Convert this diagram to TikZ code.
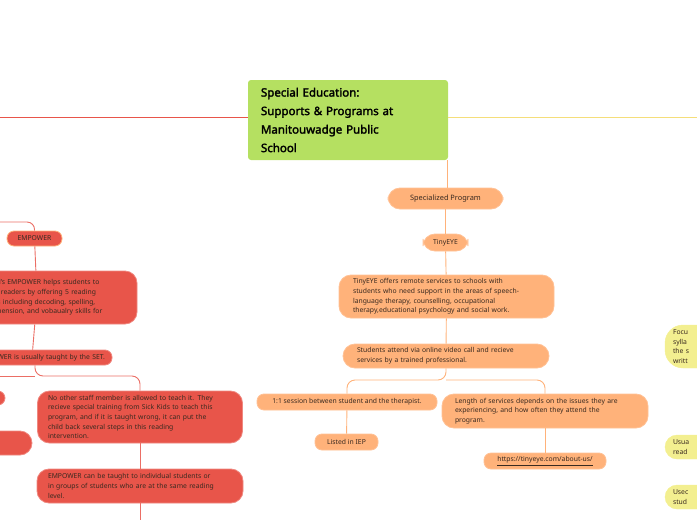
\documentclass[tikz,border=0pt]{standalone}
\usepackage{fontspec}
\setmainfont{Noto Sans}
\newfontfamily\titlefont{Noto Sans}[FakeBold=2.2]
\definecolor{redb}{HTML}{E8554A}
\definecolor{orb}{HTML}{FFB27A}
\definecolor{yelb}{HTML}{F3EF90}
\definecolor{grnb}{HTML}{B5E061}
\definecolor{txt}{HTML}{3A2A20}
\tikzset{
 bx/.style={rounded corners=12pt, inner sep=0pt, align=left, font=\fontsize{6.8}{9.6}\selectfont, text=txt},
 rb/.style={bx, fill=redb, draw=redb!70!white, line width=0.8pt},
 ob/.style={bx, fill=orb, draw=orb!80!white, line width=0.8pt},
 yb/.style={bx, fill=yelb, draw=yelb},
 rl/.style={draw=redb!85!white, line width=0.9pt, rounded corners=8pt},
 ol/.style={draw=orb, line width=0.9pt, rounded corners=8pt},
}
\begin{document}
\begin{tikzpicture}[x=1pt,y=-1pt]
\useasboundingbox (0,0) rectangle (697,520);
\clip (0,0) rectangle (697,520);
% title
\node[fill=grnb, rounded corners=3pt, minimum width=200pt, minimum height=80pt, inner sep=0pt, text width=174pt, align=left, font=\titlefont\fontsize{11.5}{18.5}\selectfont, text=black] (title) at (348,120) {Special Education:\\Supports \& Programs at\\Manitouwadge Public\\School};
\coordinate (lend) at (0,117);
\coordinate (rend) at (697,117);
\draw[draw=redb, line width=1pt] (title.west |- 0,117) -- (lend);
\draw[draw=yelb!85!orange, line width=1pt] (title.east |- 0,117) -- (rend);
% orange branch
\node[ob, minimum width=115pt, minimum height=21pt, font=\fontsize{7.4}{9}\selectfont] (sp) at (445.5,198.5) {Specialized Program};
\node[ob, minimum width=45pt, minimum height=17pt] (tiny) at (445.5,242.5) {TinyEYE};
\node[ob, minimum width=215pt, minimum height=43pt, text width=187pt] (offers) at (446.5,296.5) {TinyEYE offers remote services to schools with\\students who need support in the areas of speech-\\language therapy, counselling, occupational\\therapy,educational psychology and social work.};
\node[ob, minimum width=206pt, minimum height=24pt, text width=178pt] (attend) at (446,356) {Students attend via online video call and recieve\\services by a trained professional.};
\node[ob, minimum width=180pt, minimum height=16pt, rounded corners=7pt] (one) at (347,402) {1:1 session between student and the therapist.};
\node[ob, minimum width=206pt, minimum height=34pt, text width=180pt] (len) at (545,411) {Length of services depends on the issues they are\\experiencing, and how often they attend the\\program.};
\node[ob, minimum width=63pt, minimum height=16pt, rounded corners=7pt] (iep) at (346.5,442) {Listed in IEP};
\node[ob, minimum width=122pt, minimum height=16pt, rounded corners=7pt] (link) at (545,461) {\underline{https://tinyeye.com/about-us/}};
\coordinate (br1) at (446,380);
\draw[ol] (title.south -| 447,0) -- (sp.north -| 447,0);
\draw[ol] (sp) -- (tiny);
\draw[ol] (tiny) -- (offers);
\draw[ol] (offers) -- (attend);
\draw[ol] (attend.south -| br1) -- (br1) -- (br1 -| one) -- (one.north);
\draw[ol] (br1) -- (br1 -| len) -- (len.north);
\draw[ol] (one) -- (iep);
\draw[ol] (len) -- (link);
% yellow right
\node[yb, minimum width=80pt, minimum height=43pt, text width=64pt, rounded corners=18pt] (y1) at (705,346.5) {Focu\\sylla\\the s\\writt};
\node[yb, minimum width=80pt, minimum height=24pt, text width=64pt] (y2) at (705,447) {Usua\\read};
\node[yb, minimum width=80pt, minimum height=24pt, text width=64pt] (y3) at (705,497) {Usec\\stud};
% red left
\coordinate (etop) at (0,222);
\node[rb, minimum width=55pt, minimum height=15pt, rounded corners=7pt, draw=orb] (emp) at (34.5,238.5) {EMPOWER};
\draw[rl] (etop) -- (35,222) -- (emp.north);
\node[rb, minimum width=200pt, minimum height=53pt, text width=176pt] (helps) at (37,297.5) {\hspace*{24pt}Regional's EMPOWER helps students to\\\hspace*{24pt}become readers by offering 5 reading\\\hspace*{24pt}modules including decoding, spelling,\\\hspace*{24pt}comprehension, and vobaualry skills for};
\node[rb, minimum width=160pt, minimum height=15pt, rounded corners=7pt, text width=146pt] (set) at (32,357.5) {\hfill EMPOWER is usually taught by the SET.};
\node[rb, minimum width=60pt, minimum height=14pt, rounded corners=7pt] (l1) at (-25,398) {};
\node[rb, minimum width=80pt, minimum height=24pt] (l2) at (-8,443) {};
\node[rb, minimum width=205pt, minimum height=52pt, text width=184pt] (noother) at (140,417) {No other staff member is allowed to teach it. They\\recieve special training from Sick Kids to teach this\\program, and if it is taught wrong, it can put the\\child back several steps in this reading\\intervention.};
\node[rb, minimum width=206pt, minimum height=34pt, text width=184pt] (groups) at (140,486) {EMPOWER can be taught to individual students or\\in groups of students who are at the same reading\\level.};
\coordinate (br2) at (35,376);
\coordinate (bot) at (140,520);
\draw[rl] (emp) -- (helps);
\draw[rl] (helps) -- (set);
\draw[rl] (set.south -| br2) -- (br2) -- (br2 -| noother) -- (noother.north);
\draw[rl] (br2) -- (-30,376);
\draw[rl] (noother) -- (groups);
\draw[rl] (groups) -- (bot);
\end{tikzpicture}
\end{document}
